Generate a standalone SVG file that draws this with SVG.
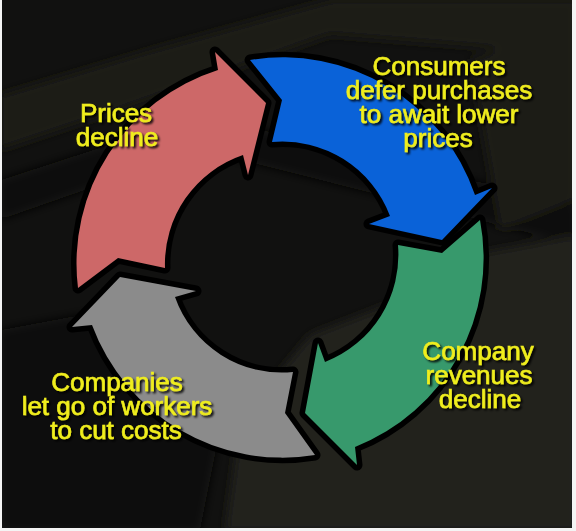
<svg xmlns="http://www.w3.org/2000/svg" xmlns:xlink="http://www.w3.org/1999/xlink" width="576" height="531" viewBox="0 0 576 531">
  <style>
    .halo { fill: #000; stroke: #000; stroke-width: 11; stroke-linejoin: round; }
    .red { fill: #cd6868; }
    .blue { fill: #0a62d8; }
    .green { fill: #37996c; }
    .gray { fill: #8b8b8b; }
    .lbl { font-family: "Liberation Sans", Arial, sans-serif; font-size: 26px; fill: #f0ee1e; stroke: #f0ee1e; stroke-width: 0.6; text-anchor: middle; filter: url(#sh); }
  </style>
  <defs>
    <filter id="sh" x="-10%" y="-20%" width="130%" height="150%">
      <feDropShadow dx="2" dy="2" stdDeviation="1.2" flood-color="#000" flood-opacity="0.95"/>
    </filter>
    <filter id="soft" x="-5%" y="-5%" width="110%" height="110%">
      <feGaussianBlur stdDeviation="5"/>
    </filter>
    <path id="pRed" d="M78,288 A203,203 0 0 1 218,70 L215,52 L266,103 L248,175 L243,155 A115,115 0 0 0 165,268 L118,258 Z"/>
    <path id="pBlue" d="M250,60 A203,203 0 0 1 475,195 L492,188 L442,240 L369,224 L390,216 A115,115 0 0 0 272,142 L282,100 Z"/>
    <path id="pGreen" d="M480,220 A203,203 0 0 1 355,447 L357,465 L305,413 L318,343 L325,362 A115,115 0 0 0 398,245 L442,253 Z"/>
    <path id="pGray" d="M315,455 A203,203 0 0 1 92,325 L72,327 L120,277 L196,291 L175,297 A113,113 0 0 0 293,372 L285,413 Z"/>
  </defs>

  <!-- background photo-like texture -->
  <g id="background">
    <rect x="0" y="0" width="576" height="531" fill="#111110"/>
    <g filter="url(#soft)">
      <polygon points="0,95 150,50 330,0 576,0 576,55 330,35 120,110 0,150" fill="#1b1b17"/>
      <polygon points="0,180 200,115 576,205 576,245 200,150 0,220" fill="#080807"/>
      <polygon points="576,235 470,255 400,300 310,335 240,420 225,531 576,531" fill="#23231e"/>
      <polygon points="0,330 160,300 230,380 200,531 0,531" fill="#090908"/>
      <polygon points="470,60 576,20 576,200 500,230" fill="#1a1a18"/>
    </g>
    <rect x="0" y="0" width="2" height="531" fill="#f4f4f4"/>
    <rect x="572" y="0" width="4" height="531" fill="#f4f4f4"/>
    <rect x="0" y="528" width="576" height="3" fill="#f4f4f4"/>
  </g>

  <g id="connectors">
    <use xlink:href="#pRed" class="halo"/>
    <use xlink:href="#pBlue" class="halo"/>
    <use xlink:href="#pGreen" class="halo"/>
    <use xlink:href="#pGray" class="halo"/>
    <use xlink:href="#pRed" class="red"/>
    <use xlink:href="#pBlue" class="blue"/>
    <use xlink:href="#pGreen" class="green"/>
    <use xlink:href="#pGray" class="gray"/>
  </g>

  <g id="node-prices">
    <text class="lbl"><tspan x="116" y="122">Prices</tspan><tspan x="117" y="146">decline</tspan></text>
  </g>
  <g id="node-consumers">
    <text class="lbl"><tspan x="439" y="75">Consumers</tspan><tspan x="439" y="99">defer purchases</tspan><tspan x="439" y="123">to await lower</tspan><tspan x="438" y="147">prices</tspan></text>
  </g>
  <g id="node-revenues">
    <text class="lbl"><tspan x="478" y="360">Company</tspan><tspan x="479" y="384">revenues</tspan><tspan x="480" y="408">decline</tspan></text>
  </g>
  <g id="node-companies">
    <text class="lbl"><tspan x="117" y="391">Companies</tspan><tspan x="117" y="415">let go of workers</tspan><tspan x="116" y="439">to cut costs</tspan></text>
  </g>
</svg>
